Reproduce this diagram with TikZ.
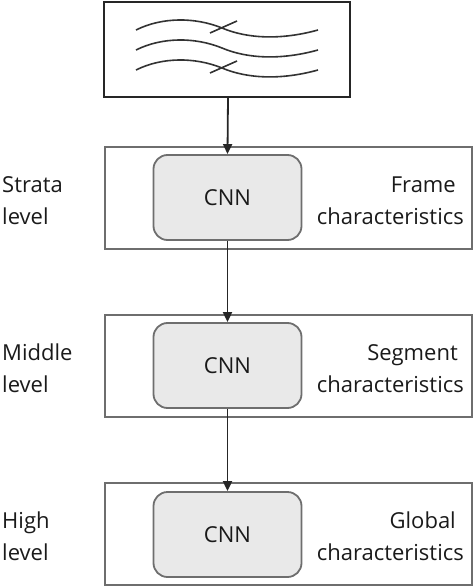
\documentclass[tikz,border=0pt]{standalone}
\usepackage{fontspec}
\setmainfont{Open Sans}
\usetikzlibrary{arrows.meta}
\definecolor{boxgray}{HTML}{6E6E6E}
\definecolor{cnnfill}{HTML}{E9E9E9}
\definecolor{txt}{HTML}{1A1A1A}
\tikzset{
  levelbox/.style={draw=boxgray, line width=2pt},
  cnnbox/.style={draw=boxgray, fill=cnnfill, line width=1.8pt, rounded corners=14pt},
  lbl/.style={text=txt, font=\fontsize{22}{26}\selectfont, inner sep=0pt},
  flow/.style={draw=black!85, line width=1.8pt, -{Triangle[length=10pt,width=9pt]}},
  wave/.style={draw=black!80, line width=1.6pt}
}
\begin{document}
\begin{tikzpicture}[x=1pt,y=-1pt]
\useasboundingbox (0,0) rectangle (474,588);
% top input box
\draw[draw=black!85, line width=2.2pt] (104,2) rectangle (350,97);
\coordinate (inbot) at (228,97);
\foreach \dy in {0,20,40}{
  \draw[wave] (136,30+\dy) .. controls (162,17+\dy) and (195,17+\dy) .. (222,28+\dy)
     .. controls (248,39+\dy) and (282,40+\dy) .. (318,30+\dy);
}
\draw[wave] (210,33) -- (237,21);
\draw[wave] (210,73) -- (237,61);
% level boxes
\draw[levelbox] (105,147) rectangle (472,249);
\draw[levelbox] (105,315) rectangle (472,417);
\draw[levelbox] (105,483) rectangle (472,585);
% CNN nodes
\node[cnnbox, minimum width=148pt, minimum height=85pt] (c1) at (227.5,197.5) {};
\node[cnnbox, minimum width=148pt, minimum height=85pt] (c2) at (227.5,365.5) {};
\node[cnnbox, minimum width=148pt, minimum height=85pt] (c3) at (227.5,534.5) {};
\node[lbl] at (c1) {CNN};
\node[lbl] at (c2) {CNN};
\node[lbl] at (c3) {CNN};
% arrows
\draw[flow] (inbot) -- (c1.north);
\draw[flow] (c1.south) -- (c2.north);
\draw[flow] (c2.south) -- (c3.north);
% left labels
\node[lbl, anchor=base west] (l1a) at (2,192) {Strata};
\node[lbl, anchor=base west] (l1b) at (2,224) {level};
\node[lbl, anchor=base west] (l2a) at (2,360) {Middle};
\node[lbl, anchor=base west] (l2b) at (2,392) {level};
\node[lbl, anchor=base west] (l3a) at (2,528) {High};
\node[lbl, anchor=base west] (l3b) at (2,560) {level};
% right labels
\node[lbl, anchor=base east] (r1a) at (456,192) {Frame};
\node[lbl, anchor=base east] (r1b) at (464,224) {characteristics};
\node[lbl, anchor=base east] (r2a) at (458,360) {Segment};
\node[lbl, anchor=base east] (r2b) at (464,392) {characteristics};
\node[lbl, anchor=base east] (r3a) at (456,528) {Global};
\node[lbl, anchor=base east] (r3b) at (464,560) {characteristics};
\end{tikzpicture}
\end{document}
